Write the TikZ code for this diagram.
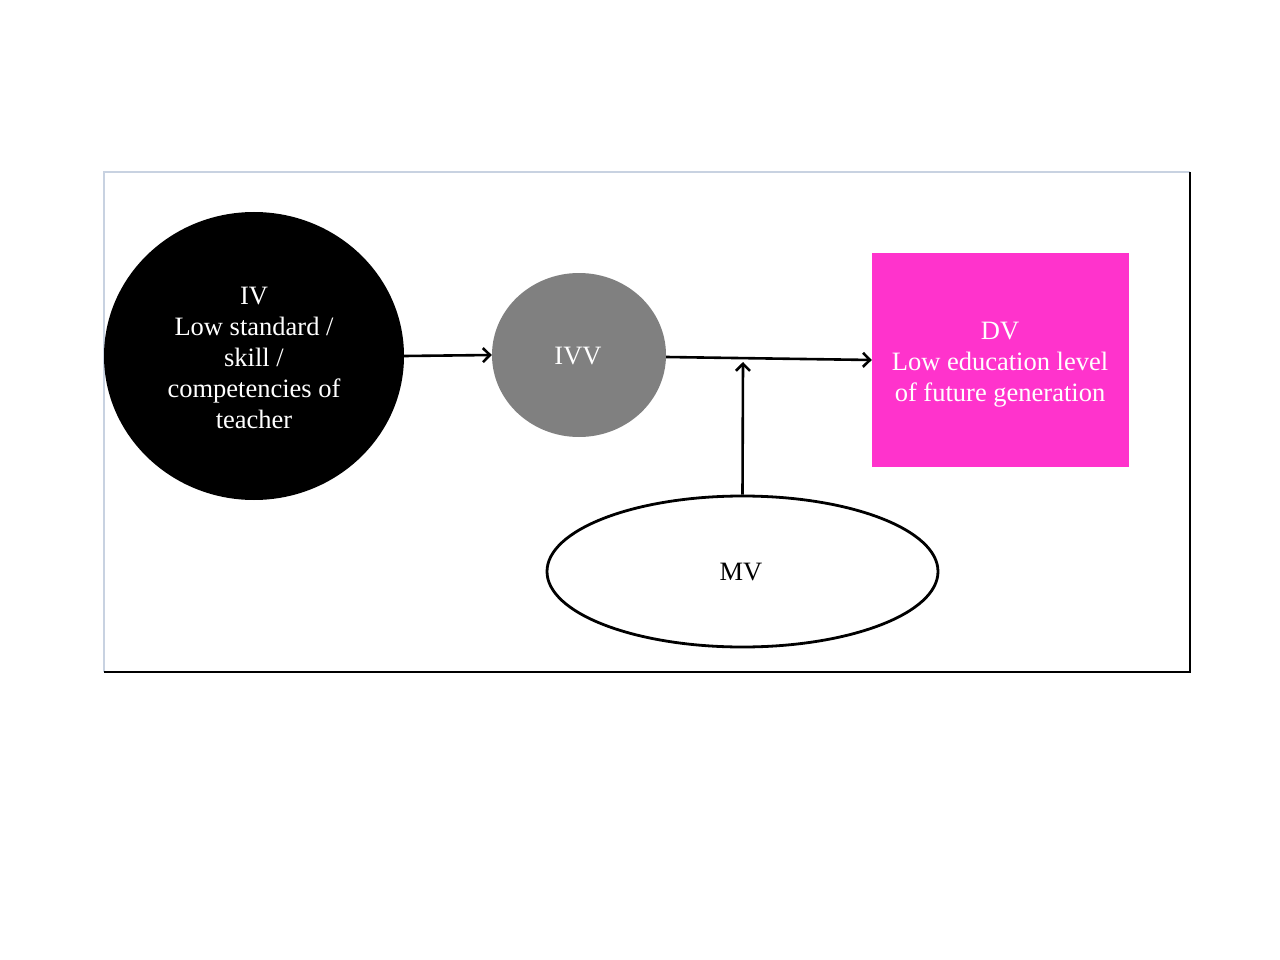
\documentclass[tikz,border=0pt]{standalone}
\usepackage{fontspec}
\setmainfont{Liberation Serif}
\usetikzlibrary{arrows.meta,shapes.geometric}
\definecolor{framegray}{RGB}{200,210,225}
\definecolor{ivvgray}{RGB}{128,128,128}
\definecolor{dvpink}{RGB}{255,51,204}
\tikzset{
  lbl/.style={font=\fontsize{26.5}{31}\selectfont, align=center, inner sep=0pt},
  conn/.style={line width=2.6pt, -{Straight Barb[length=7pt,width=14pt,line width=2.6pt]}},
}
\begin{document}
\begin{tikzpicture}[x=1pt,y=-1pt]
\useasboundingbox (0,0) rectangle (1280,960);
\fill[white] (0,0) rectangle (1280,960);
% frame
\draw[framegray, line width=1.2pt] (104,672) -- (104,172) -- (1190,172);
\draw[black, line width=2.4pt] (1190,172) -- (1190,672) -- (104,672);
% shapes
\node[ellipse, fill=black, minimum width=300pt, minimum height=288pt, inner sep=0pt] (iv) at (254,356) {};
\node[ellipse, fill=ivvgray, minimum width=174pt, minimum height=164pt, inner sep=0pt] (ivv) at (579,355) {};
\node[rectangle, fill=dvpink, minimum width=257pt, minimum height=214pt, inner sep=0pt] (dv) at (1000.5,360) {};
\node[ellipse, draw=black, line width=2.8pt, fill=white, minimum width=391pt, minimum height=151pt, inner sep=0pt] (mv) at (742.5,571.5) {};
% texts
\node[lbl, text=white] at (254,357.5) {IV\\Low standard /\\skill /\\competencies of\\teacher};
\node[lbl, text=white] at (578,356) {IVV};
\node[lbl, text=white] at (1000,365) {DV\\Low education level\\of future generation};
\node[lbl, text=black] at (741,572) {MV};
% connectors
\draw[conn] (iv.east) -- (ivv.west);
\draw[conn] ([yshift=-2pt]ivv.east) -- (dv.west);
\coordinate (hit) at (743,362);
\draw[conn] (mv.north) -- (hit);
\end{tikzpicture}
\end{document}
